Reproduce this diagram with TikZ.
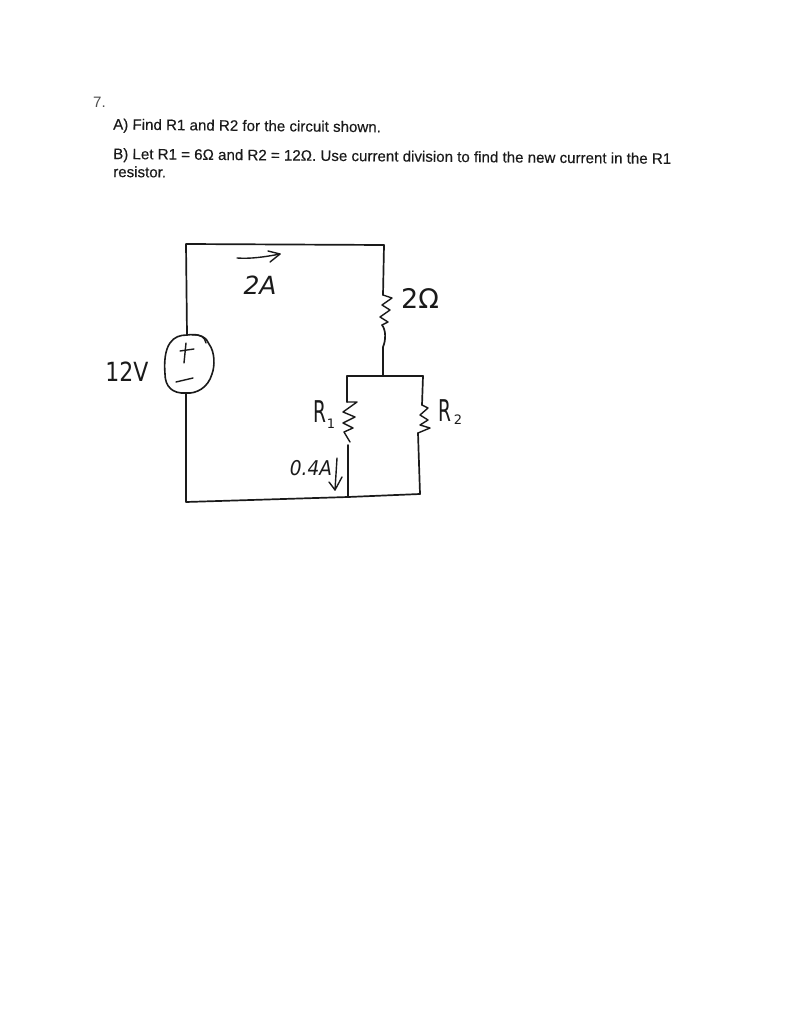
\documentclass[tikz,border=0pt]{standalone}
\usepackage{fontspec}
\setmainfont{Liberation Sans}
\newfontfamily\handfont{DejaVu Sans}
\usetikzlibrary{arrows.meta}
\definecolor{ink}{HTML}{1A1A1A}
\tikzset{
  wire/.style={draw=ink,line width=1.7pt,line cap=round,line join=round},
  hand/.style={draw=ink,line width=1.4pt,line cap=round,line join=round},
  prtext/.style={text=ink,anchor=base west,inner sep=0pt,font=\fontsize{15.1}{17}\selectfont\addfontfeature{FakeBold=0.35}},
  handtext/.style={text=ink,inner sep=0pt}
}
\begin{document}
\begin{tikzpicture}[x=1pt,y=-1pt]
\useasboundingbox (0,0) rectangle (791,1024);
% printed text
\node[prtext,text=black!70,font=\fontsize{15.1}{17}\selectfont] (num) at (93,108) {7.};
\node[prtext,rotate=-0.6] (qa) at (113,129.5) {A) Find R1 and R2 for the circuit shown.};
\node[prtext,rotate=-0.5] (qb) at (113,159) {B) Let R1 = 6Ω and R2 = 12Ω. Use current division to find the new current in the R1};
\node[prtext,rotate=-0.5] (qc) at (113,177) {resistor.};
% junctions
\coordinate (tl) at (186,244);
\coordinate (tr) at (384,245);
\coordinate (srcT) at (187,335);
\coordinate (srcB) at (186,393);
\coordinate (bl) at (186,502);
\coordinate (bm) at (348,497);
\coordinate (br) at (420,494);
\coordinate (pm) at (383,376);
\coordinate (pl) at (347,376);
\coordinate (pr) at (423,376);
\coordinate (r0a) at (383,295);
\coordinate (r0b) at (382,325);
\coordinate (r1a) at (347,402);
\coordinate (r1b) at (350,442);
\coordinate (r1c) at (348,445);
\coordinate (r2a) at (422,405);
\coordinate (r2b) at (418,433);
% wires
\draw[wire] (srcT) -- (tl) -- (tr) -- (r0a);
\draw[wire] (r0b) .. controls (386,330) and (386,340) .. (383,347) -- (pm);
\draw[wire] (pl) -- (pr);
\draw[wire] (pl) -- (r1a);
\draw[wire] (r1c) -- (bm);
\draw[wire] (pr) -- (r2a);
\draw[wire] (r2b) -- (br);
\draw[wire] (srcB) -- (bl) -- (bm) -- (br);
% resistors
\draw[hand] (r0a) -- (392,298) -- (382,305) -- (390,310) -- (380,317) -- (388,322) -- (r0b);
\draw[hand] (r1a) -- (357,402) -- (343,412) -- (355,417) -- (343,423) -- (353,428) -- (344,432) -- (r1b);
\draw[hand] (r2a) -- (428,408) -- (420,415) -- (428,420) -- (420,425) -- (430,428) -- (r2b);
% source
\draw[hand,line width=1.6pt] (srcT) .. controls (200,333) and (207,338) .. (209,344)
  .. controls (215,352) and (215,366) .. (212,374)
  .. controls (208,388) and (196,394) .. (srcB)
  .. controls (172,394) and (165,386) .. (165,374)
  .. controls (164,362) and (165,350) .. (170,343)
  .. controls (174,337) and (180,335) .. (srcT);
\draw[hand] (192,335) .. controls (200,334) and (205,337) .. (206,343);
\draw[hand] (180,351) -- (194,349);
\draw[hand] (186,343) -- (184,363);
\draw[hand] (176,382) -- (193,378);
% current arrows
\coordinate (a1s) at (237,258);
\coordinate (a1e) at (280,254);
\draw[hand] (a1s) .. controls (250,259) and (265,257) .. (a1e);
\draw[hand] (268,251) -- (a1e) -- (270,262);
\coordinate (a2s) at (337,458);
\coordinate (a2e) at (335,490);
\draw[hand] (a2s) -- (a2e);
\draw[hand] (329,482) -- (a2e) -- (342,477);
% handwritten labels
\node[handtext,font=\handfont\itshape\fontsize{25}{27}\selectfont] (lblA) at (260,285) {2A};
\node[handtext,font=\handfont\fontsize{27}{29}\selectfont] (lblO) at (420,298) {2Ω};
\node[handtext,font=\handfont\fontsize{22}{24}\selectfont,yscale=1.2] (lblV) at (127,372) {12V};
\node[handtext,font=\handfont\fontsize{30}{32}\selectfont,xscale=0.62] (lblR1) at (320,412) {R};
\node[handtext,font=\handfont\fontsize{13}{14}\selectfont] (lblR1s) at (331,424) {1};
\node[handtext,font=\handfont\fontsize{30}{32}\selectfont,xscale=0.62] (lblR2) at (445,411) {R};
\node[handtext,font=\handfont\fontsize{13}{14}\selectfont] (lblR2s) at (458,420) {2};
\node[handtext,font=\handfont\itshape\fontsize{18.5}{20}\selectfont,yscale=1.1] (lblI) at (311,468) {0.4A};
\end{tikzpicture}
\end{document}
